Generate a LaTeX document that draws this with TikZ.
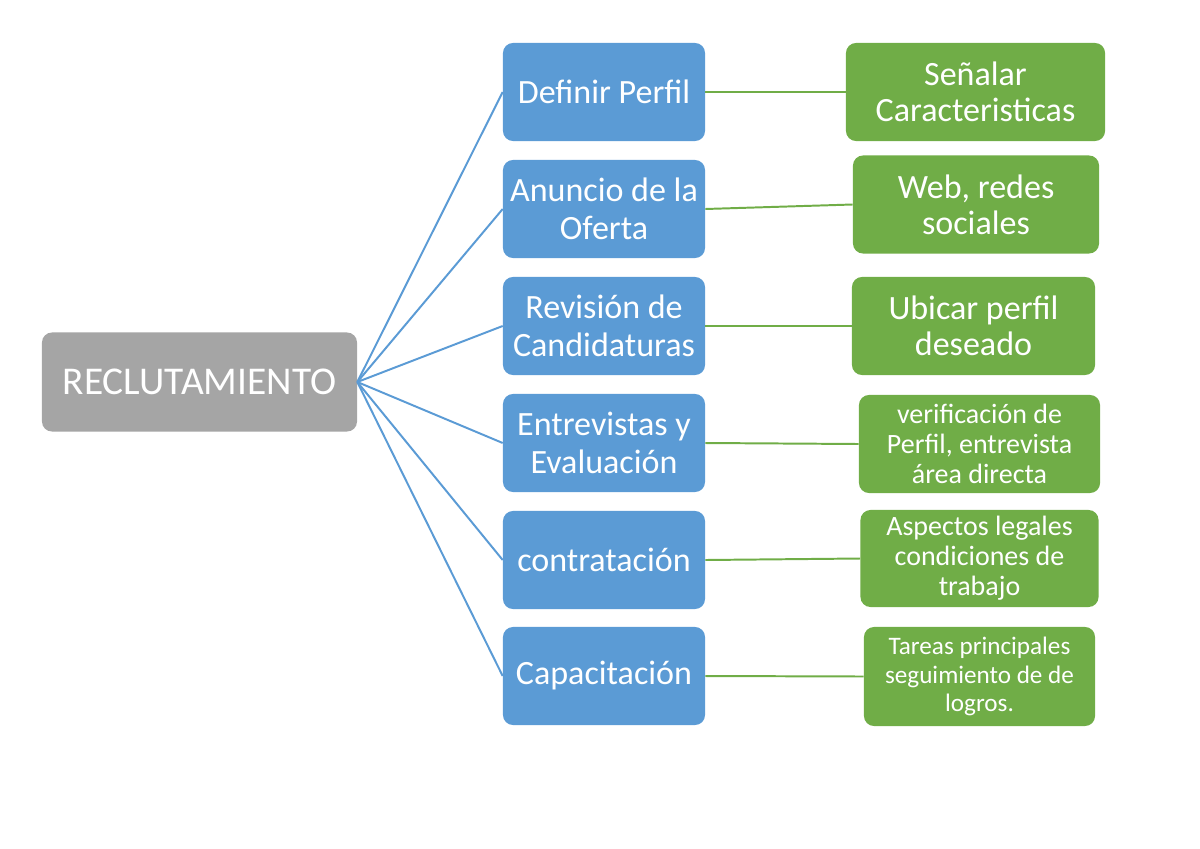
\documentclass[tikz,border=0pt]{standalone}
\usepackage{fontspec}
\setmainfont{Carlito}
\usetikzlibrary{positioning}
\definecolor{rgray}{HTML}{A5A5A5}
\definecolor{rblue}{HTML}{5B9BD5}
\definecolor{rgreen}{HTML}{70AD47}

\begin{document}
\begin{tikzpicture}[
  x=.025cm,y=-.025cm,
  base/.style={rounded corners=.25cm,align=center,inner sep=2pt,text=white},
  root/.style={base,fill=rgray,minimum width=7.875cm,minimum height=2.475cm,
    font=\fontsize{28}{32}\selectfont},
  stage/.style={base,fill=rblue,minimum width=5.05cm,minimum height=2.45cm,
    font=\fontsize{24.2}{27}\selectfont},
  detail/.style={base,fill=rgreen,minimum height=2.45cm,
    font=\fontsize{24.2}{25.6}\selectfont},
  smalldetail/.style={detail,font=\fontsize{19.9}{21.3}\selectfont},
  tinydetail/.style={detail,font=\fontsize{17.9}{20.3}\selectfont},
  link/.style={draw=rblue,line width=1.4pt},
  sublink/.style={draw=rgreen,line width=1.4pt}
]
\useasboundingbox (0,0) rectangle (1200,848);

% Root of the map.
\node[root] (recl) at (199.5,382) {RECLUTAMIENTO};

% Stages of the process.
\node[stage] (perfil) at (604,92) {Definir Perfil};
\node[stage] (anuncio) at (604,209) {Anuncio de la\\Oferta};
\node[stage] (revision) at (604,326) {Revisión de\\Candidaturas};
\node[stage] (entrev) at (604,443) {Entrevistas y\\Evaluación};
\node[stage] (contrat) at (604,560) {contratación};
\node[stage] (capac) at (604,676) {Capacitación};

% Details for each stage.
\node[detail,minimum width=6.475cm] (senal) at (975.5,92) {Señalar\\Caracteristicas};
\node[detail,minimum width=6.15cm] (web) at (976,204.5) {Web, redes\\sociales};
\node[detail,minimum width=6.075cm] (ubicar) at (973.5,326) {Ubicar perfil\\deseado};
\node[smalldetail,minimum width=6.025cm] (verif) at (979.5,444)
  {verificación de\\Perfil, entrevista\\área directa};
\node[smalldetail,minimum width=5.95cm,minimum height=2.425cm] (legal) at (979.5,558.5)
  {Aspectos legales\\condiciones de\\trabajo};
\node[tinydetail,minimum width=5.775cm,minimum height=2.475cm] (tareas) at (979.5,676.5)
  {Tareas principales\\seguimiento de de\\logros.};

% Fan out from the root.
\draw[link] (recl.east) -- (perfil.west);
\draw[link] (recl.east) -- (anuncio.west);
\draw[link] (recl.east) -- (revision.west);
\draw[link] (recl.east) -- (entrev.west);
\draw[link] (recl.east) -- (contrat.west);
\draw[link] (recl.east) -- (capac.west);

% Stage to detail.
\draw[sublink] (perfil.east) -- (senal.west);
\draw[sublink] (anuncio.east) -- (web.west);
\draw[sublink] (revision.east) -- (ubicar.west);
\draw[sublink] (entrev.east) -- (verif.west);
\draw[sublink] (contrat.east) -- (legal.west);
\draw[sublink] (capac.east) -- (tareas.west);
\end{tikzpicture}
\end{document}
